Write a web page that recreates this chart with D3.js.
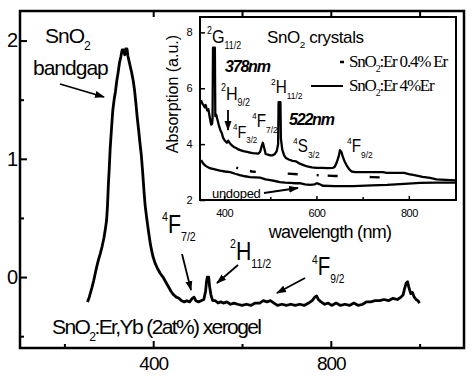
<!DOCTYPE html>
<html>
<head>
<meta charset="utf-8">
<script src="https://cdn.jsdelivr.net/npm/d3@7"></script>
<style>
  html, body { margin: 0; padding: 0; background: #fff; }
  svg { display: block; }
</style>
</head>
<body>
<div id="chart"></div>
<script>
// main spectrum: SnO2:Er,Yb (2at%) xerogel  [wavelength nm, absorbance]
const xerogel = [
  [252,-0.21],[256,-0.17],[259,-0.13],[262,-0.09],[266,-0.03],[270,0.04],[273,0.09],[277,0.15],
  [281,0.2],[285,0.26],[289,0.33],[292,0.40],[295,0.48],[297,0.6],[299,0.78],[301,0.92],
  [303,1.08],[306,1.25],[309,1.41],[312,1.50],[315,1.57],[318,1.66],[321,1.73],[324,1.81],
  [327,1.86],[330,1.92],[333,1.92],[336,1.88],[338,1.93],[341,1.93],[343,1.87],[346,1.82],
  [349,1.77],[352,1.72],[355,1.66],[358,1.58],[361,1.47],[364,1.35],[367,1.25],[370,1.14],
  [373,1.04],[376,0.9],[379,0.74],[382,0.6],[386,0.48],[390,0.37],[394,0.27],[399,0.18],
  [404,0.12],[410,0.07],[416,0.03],[422,0.0],[428,-0.04],[434,-0.08],[440,-0.12],[446,-0.15],
  [452,-0.17],[458,-0.18],[464,-0.2],[470,-0.21],[476,-0.2],[482,-0.21],[488,-0.18],[492,-0.17],
  [496,-0.2],[502,-0.21],[508,-0.2],[514,-0.19],[518,-0.12],[520,-0.04],[522,0.0],[525,0.0],
  [527,-0.08],[530,-0.15],[534,-0.2],[540,-0.2],[546,-0.22],[552,-0.21],[558,-0.22],[566,-0.21],
  [574,-0.23],[582,-0.22],[590,-0.23],[600,-0.24],[610,-0.23],[620,-0.24],[630,-0.22],[640,-0.22],
  [648,-0.2],[656,-0.21],[664,-0.2],[672,-0.22],[680,-0.24],[690,-0.23],[700,-0.24],[710,-0.23],
  [720,-0.24],[730,-0.23],[740,-0.24],[750,-0.22],[758,-0.2],[764,-0.17],[768,-0.16],[772,-0.19],
  [778,-0.21],[786,-0.23],[794,-0.22],[802,-0.24],[812,-0.22],[822,-0.24],[832,-0.23],[842,-0.24],
  [852,-0.22],[862,-0.24],[872,-0.23],[880,-0.21],[890,-0.21],[900,-0.2],[910,-0.2],[920,-0.19],
  [930,-0.2],[940,-0.18],[950,-0.19],[958,-0.17],[963,-0.15],[966,-0.1],[970,-0.05],[973,-0.04],
  [976,-0.09],[980,-0.14],[984,-0.13],[988,-0.17],[992,-0.19],[996,-0.2],[1000,-0.22]
];

// inset: SnO2 crystals
const er4 = [
  [350,5.57],[353,5.45],[356,5.38],[358,5.32],[360,5.4],[362,5.28],[364,5.2],[366,5.25],
  [368,5.05],[370,4.85],[372,4.7],[374,4.72],[375,4.9],[376,7.45],[380,7.45],[381,5.0],
  [383,5.05],[386,4.85],[389,4.65],[392,4.5],[395,4.4],[398,4.22],[402,4.12],[406,4.05],
  [409,4.12],[413,4.02],[417,3.95],[421,3.9],[426,3.86],[432,3.8],[438,3.77],[444,3.74],
  [450,3.72],[456,3.7],[462,3.68],[468,3.67],[474,3.66],[478,3.72],[481,3.9],[484,4.05],
  [487,3.85],[490,3.65],[495,3.62],[500,3.6],[505,3.6],[510,3.65],[514,3.75],[517,4.0],
  [518,5.5],[522,5.5],[523,4.2],[526,3.8],[530,3.6],[534,3.5],[540,3.45],[548,3.4],
  [556,3.38],[564,3.3],[572,3.25],[580,3.2],[590,3.17],[600,3.15],[612,3.15],[624,3.14],
  [636,3.15],[640,3.2],[644,3.35],[648,3.55],[651,3.78],[654,3.72],[657,3.55],[661,3.38],
  [665,3.25],[670,3.12],[676,3.02],[684,3.0],[700,3.0],[720,3.0],[744,3.0],[752,2.97],
  [770,2.97],[790,2.97],[800,2.93],[812,2.89],[830,2.83],[846,2.79],[860,2.74],[880,2.72],[900,2.7]
];
const er04 = [
  [420,3.18],[440,3.1],[460,3.02],[480,2.99],[500,2.97],[530,2.95],[560,2.92],[600,2.89],
  [640,2.86],[680,2.84],[720,2.82],[760,2.8],[800,2.77],[850,2.72],[900,2.68]
];
const undoped = [
  [350,3.43],[355,3.3],[360,3.22],[369,3.14],[380,3.1],[391,3.05],[402,3.02],[413,3.0],
  [424,2.94],[434,2.89],[445,2.85],[456,2.82],[467,2.81],[478,2.8],[490,2.74],[500,2.71],
  [510,2.68],[521,2.64],[532,2.62],[543,2.61],[555,2.6],[564,2.6],[575,2.56],[586,2.54],
  [596,2.56],[601,2.6],[606,2.57],[614,2.51],[640,2.5],[680,2.5],[720,2.52],[753,2.54],
  [790,2.58],[824,2.61],[860,2.62],[900,2.62]
];

const mainXMajor = [400, 800], mainXMinor = [200, 600, 1000];
const mainYMajor = [0, 1, 2], mainYMinor = [-0.5, 0.5, 1.5];
const insetXMajor = [400, 600, 800], insetXMinor = [500, 700];
const insetYMajor = [2, 4, 6, 8];

const SANS = "'Liberation Sans', Arial, sans-serif";
const SERIF = "'Liberation Serif', 'Times New Roman', serif";

const W = 474, H = 379;
const svg = d3.select("#chart").append("svg").attr("width", W).attr("height", H);

const defs = svg.append("defs");
defs.append("marker").attr("id", "arr")
  .attr("viewBox", "0 -4 10 8").attr("refX", 9).attr("refY", 0)
  .attr("markerUnits", "userSpaceOnUse").attr("markerWidth", 10).attr("markerHeight", 8)
  .attr("orient", "auto")
  .append("path").attr("d", "M0,-3.5L10,0L0,3.5Z").attr("fill", "#000");

// text with super/subscripts, squeezed horizontally
function rich(parent, x, y, segs, o) {
  const fs = o.size;
  const t = parent.append("text")
    .attr("transform", `translate(${x},${y}) scale(${o.sx || 1},1)`)
    .attr("font-family", o.family || SANS)
    .attr("font-size", fs)
    .attr("font-weight", o.weight || "normal")
    .attr("font-style", o.style || "normal")
    .attr("letter-spacing", o.ls || 0)
    .attr("fill", "#000");
  let shift = 0;
  segs.forEach(s => {
    const [str, kind] = Array.isArray(s) ? s : [s, "n"];
    const target = kind === "sup" ? -fs * 0.45 : kind === "sub" ? fs * 0.32 : 0;
    t.append("tspan")
      .attr("dy", target - shift)
      .attr("font-size", kind === "n" ? fs : fs * (o.scr || 0.58))
      .text(str);
    shift = target;
  });
  return t;
}
function arrow(parent, x1, y1, x2, y2) {
  parent.append("line").attr("x1", x1).attr("y1", y1).attr("x2", x2).attr("y2", y2)
    .attr("stroke", "#000").attr("stroke-width", 1.8).attr("marker-end", "url(#arr)");
}

// --- MAIN PLOT ---
const x = d3.scaleLinear().domain([100, 1100]).range([20, 464]);
const y = d3.scaleLinear().domain([-0.6, 2.25]).range([348, 11]);

const line = d3.line().x(d => x(d[0])).y(d => y(d[1]));
svg.append("path").datum(xerogel).attr("d", line)
  .attr("fill", "none").attr("stroke", "#000").attr("stroke-width", 2.8).attr("stroke-linejoin", "round");

function tickAxis(axis, tx, ty) {
  const g = svg.append("g").attr("transform", `translate(${tx},${ty})`).call(axis);
  g.select(".domain").remove();
  g.selectAll(".tick line").attr("stroke", "#000").attr("stroke-width", 2);
  return g;
}
// bottom
const gxb = tickAxis(d3.axisBottom(x).tickValues(mainXMajor).tickSize(-7).tickPadding(9)
  .tickFormat(d3.format("d")), 0, 348);
gxb.selectAll("text").attr("font-family", SANS).attr("font-size", 19).attr("letter-spacing", -1).attr("fill", "#000");
tickAxis(d3.axisBottom(x).tickValues(mainXMinor).tickSize(-4).tickFormat(""), 0, 348);
// top
tickAxis(d3.axisTop(x).tickValues(mainXMajor.concat([600, 1000])).tickSize(-6).tickFormat(""), 0, 11);
// left
const gyl = tickAxis(d3.axisLeft(y).tickValues(mainYMajor).tickSize(-7).tickPadding(2)
  .tickFormat(d3.format("d")), 20, 0);
gyl.selectAll("text").attr("font-family", SANS).attr("font-size", 20).attr("fill", "#000");
tickAxis(d3.axisLeft(y).tickValues(mainYMinor).tickSize(-4).tickFormat(""), 20, 0);

svg.append("rect").attr("x", 20).attr("y", 11).attr("width", 444).attr("height", 337)
  .attr("fill", "none").attr("stroke", "#000").attr("stroke-width", 2.5);

// main annotations
rich(svg, 45, 43, ["SnO", ["2", "sub"]], { size: 21, ls: -1 });
rich(svg, 33, 75, ["bandgap"], { size: 21, ls: -1 });
arrow(svg, 60, 84, 104, 97);
rich(svg, 52, 334, ["SnO", ["2", "sub"], ":Er,Yb (2at%) xerogel"], { size: 21, ls: -1.6 });

rich(svg, 162, 233, [["4", "sup"], "F", ["7/2", "sub"]], { size: 26, sx: 0.82, scr: 0.5 });
arrow(svg, 182, 254, 191, 290);
rich(svg, 230, 260, [["2", "sup"], "H", ["11/2", "sub"]], { size: 26, sx: 0.82, scr: 0.5 });
arrow(svg, 238, 265, 217, 283);
rich(svg, 312, 275, [["4", "sup"], "F", ["9/2", "sub"]], { size: 25, sx: 0.82, scr: 0.5 });
arrow(svg, 305, 278, 277, 293);

// --- INSET ---
const ix = d3.scaleLinear().domain([350, 900]).range([201, 455]);
const iy = d3.scaleLinear().domain([2, 8.55]).range([200, 17]);
const inset = svg.append("g");
inset.append("rect").attr("x", 200).attr("y", 17).attr("width", 256).attr("height", 183)
  .attr("fill", "#fff");

const iline = d3.line().x(d => ix(d[0])).y(d => iy(d[1]));
inset.append("path").datum(undoped).attr("d", iline)
  .attr("fill", "none").attr("stroke", "#000").attr("stroke-width", 2.3);
inset.append("path").datum(er04).attr("d", iline)
  .attr("fill", "none").attr("stroke", "#000").attr("stroke-width", 2.4)
  .attr("stroke-dasharray", "0,3,2,12,6,32,10,19,2,9,10,32,10,400");
inset.append("path").datum(er4).attr("d", iline)
  .attr("fill", "none").attr("stroke", "#000").attr("stroke-width", 2.3).attr("stroke-linejoin", "round");

function insetAxis(axis, tx, ty) {
  const g = inset.append("g").attr("transform", `translate(${tx},${ty})`).call(axis);
  g.select(".domain").remove();
  g.selectAll(".tick line").attr("stroke", "#000").attr("stroke-width", 1.5);
  g.selectAll("text").attr("font-family", SANS).attr("font-size", 11)
    .attr("letter-spacing", -0.5).attr("fill", "#000");
  return g;
}
insetAxis(d3.axisBottom(ix).tickValues(insetXMajor).tickSize(-4).tickPadding(9)
  .tickFormat(d3.format("d")), 0, 200);
insetAxis(d3.axisBottom(ix).tickValues(insetXMinor).tickSize(-3).tickFormat(""), 0, 200);
insetAxis(d3.axisLeft(iy).tickValues(insetYMajor).tickSize(-5).tickPadding(8)
  .tickFormat(d3.format("d")), 200, 0);

inset.append("rect").attr("x", 200).attr("y", 17).attr("width", 256).attr("height", 183)
  .attr("fill", "none").attr("stroke", "#000").attr("stroke-width", 2);

inset.append("text").attr("x", 330).attr("y", 238).attr("text-anchor", "middle")
  .attr("font-family", SANS).attr("font-size", 18).attr("letter-spacing", -0.7)
  .text("wavelength (nm)");
inset.append("text").attr("transform", "translate(178,94) rotate(-90)").attr("text-anchor", "middle")
  .attr("font-family", SANS).attr("font-size", 16)
  .text("Absorption (a.u.)");

rich(inset, 267, 43, ["SnO", ["2", "sub"], " crystals"], { size: 17, ls: -0.4 });
// legend
inset.append("line").attr("x1", 340).attr("x2", 344).attr("y1", 62).attr("y2", 62)
  .attr("stroke", "#000").attr("stroke-width", 2.5);
rich(inset, 349, 67, ["SnO", ["2", "sub"], ":Er 0.4% Er"], { size: 17, ls: -1.2, family: SERIF });
inset.append("line").attr("x1", 311).attr("x2", 343).attr("y1", 86).attr("y2", 86)
  .attr("stroke", "#000").attr("stroke-width", 2);
rich(inset, 349, 91, ["SnO", ["2", "sub"], ":Er 4%Er"], { size: 17, ls: -1.2, family: SERIF });

// level labels
const lv = { size: 19, sx: 0.85, scr: 0.55 };
rich(inset, 207, 43, [["2", "sup"], "G", ["11/2", "sub"]], lv);
rich(inset, 225, 72, ["378nm"], { size: 16, weight: "bold", style: "italic", ls: -1.2 });
rich(inset, 221, 100, [["2", "sup"], "H", ["9/2", "sub"]], lv);
arrow(inset, 228, 110, 228, 130);
rich(inset, 233, 138, [["4", "sup"], "F", ["3/2", "sub"]], { size: 17, sx: 0.85, scr: 0.55 });
rich(inset, 252, 127, [["4", "sup"], "F", ["7/2", "sub"]], { size: 18, sx: 0.85, scr: 0.55 });
rich(inset, 271, 93, [["2", "sup"], "H", ["11/2", "sub"]], { size: 18, sx: 0.85, scr: 0.55 });
rich(inset, 289, 125, ["522nm"], { size: 16, weight: "bold", style: "italic", ls: -1.2 });
rich(inset, 293, 152, [["4", "sup"], "S", ["3/2", "sub"]], { size: 18, sx: 0.85, scr: 0.55 });
rich(inset, 347, 152, [["4", "sup"], "F", ["9/2", "sub"]], { size: 18, sx: 0.85, scr: 0.55 });
rich(inset, 212, 198, ["undoped"], { size: 13, ls: -0.3 });
arrow(inset, 264, 193, 298, 188);
</script>
</body>
</html>
